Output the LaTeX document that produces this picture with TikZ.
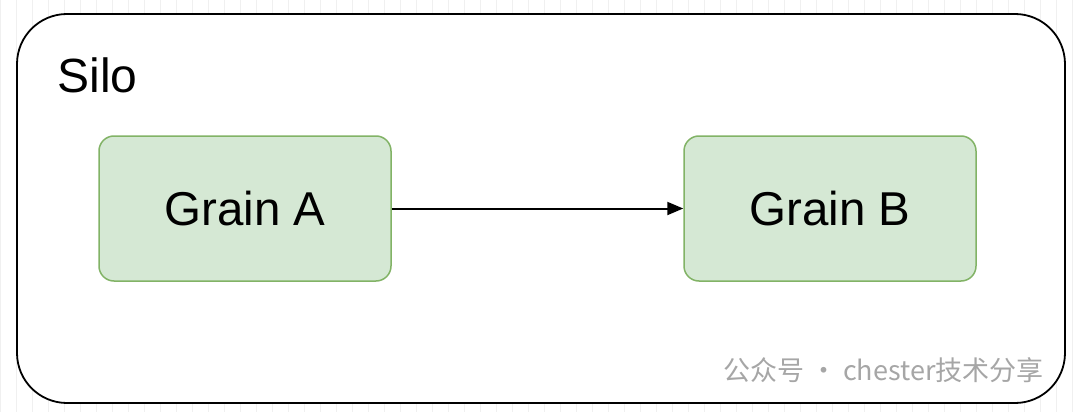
\documentclass[tikz,border=0pt]{standalone}
\usepackage{fontspec}
\setmainfont{Liberation Sans}
\newfontfamily\cjk{Noto Sans CJK SC}
\usetikzlibrary{arrows.meta}
\begin{document}
\begin{tikzpicture}[x=1pt,y=-1pt,
  grain/.style={draw={rgb,255:red,130;green,179;blue,102}, fill={rgb,255:red,213;green,232;blue,212}, line width=1.5pt, rounded corners=15pt, minimum width=292pt, minimum height=145pt, font=\fontsize{47.5}{52}\selectfont},
  conn/.style={-{Triangle[length=16pt,width=13pt]}, line width=2pt}]
\useasboundingbox (0,0) rectangle (1080,412);
\fill[white] (0,0) rectangle (1080,412);
\draw[gray!12, line width=0.6pt, step=16] (0,0) grid (1080,412);
\draw[line width=1.8pt, rounded corners=50pt, fill=white] (17,14) rectangle (1065,403);
\node[anchor=west, font=\fontsize{48}{54}\selectfont] (silo) at (54,75) {Silo};
\node[grain] (a) at (245,208.5) {Grain A};
\node[grain] (b) at (830,208.5) {Grain B};
\draw[conn] (a) -- (b);
\node[anchor=east, text=gray!70, font=\cjk\fontsize{27}{30}\selectfont] (wm) at (1047,370) {公众号 · chester技术分享};
\end{tikzpicture}
\end{document}
